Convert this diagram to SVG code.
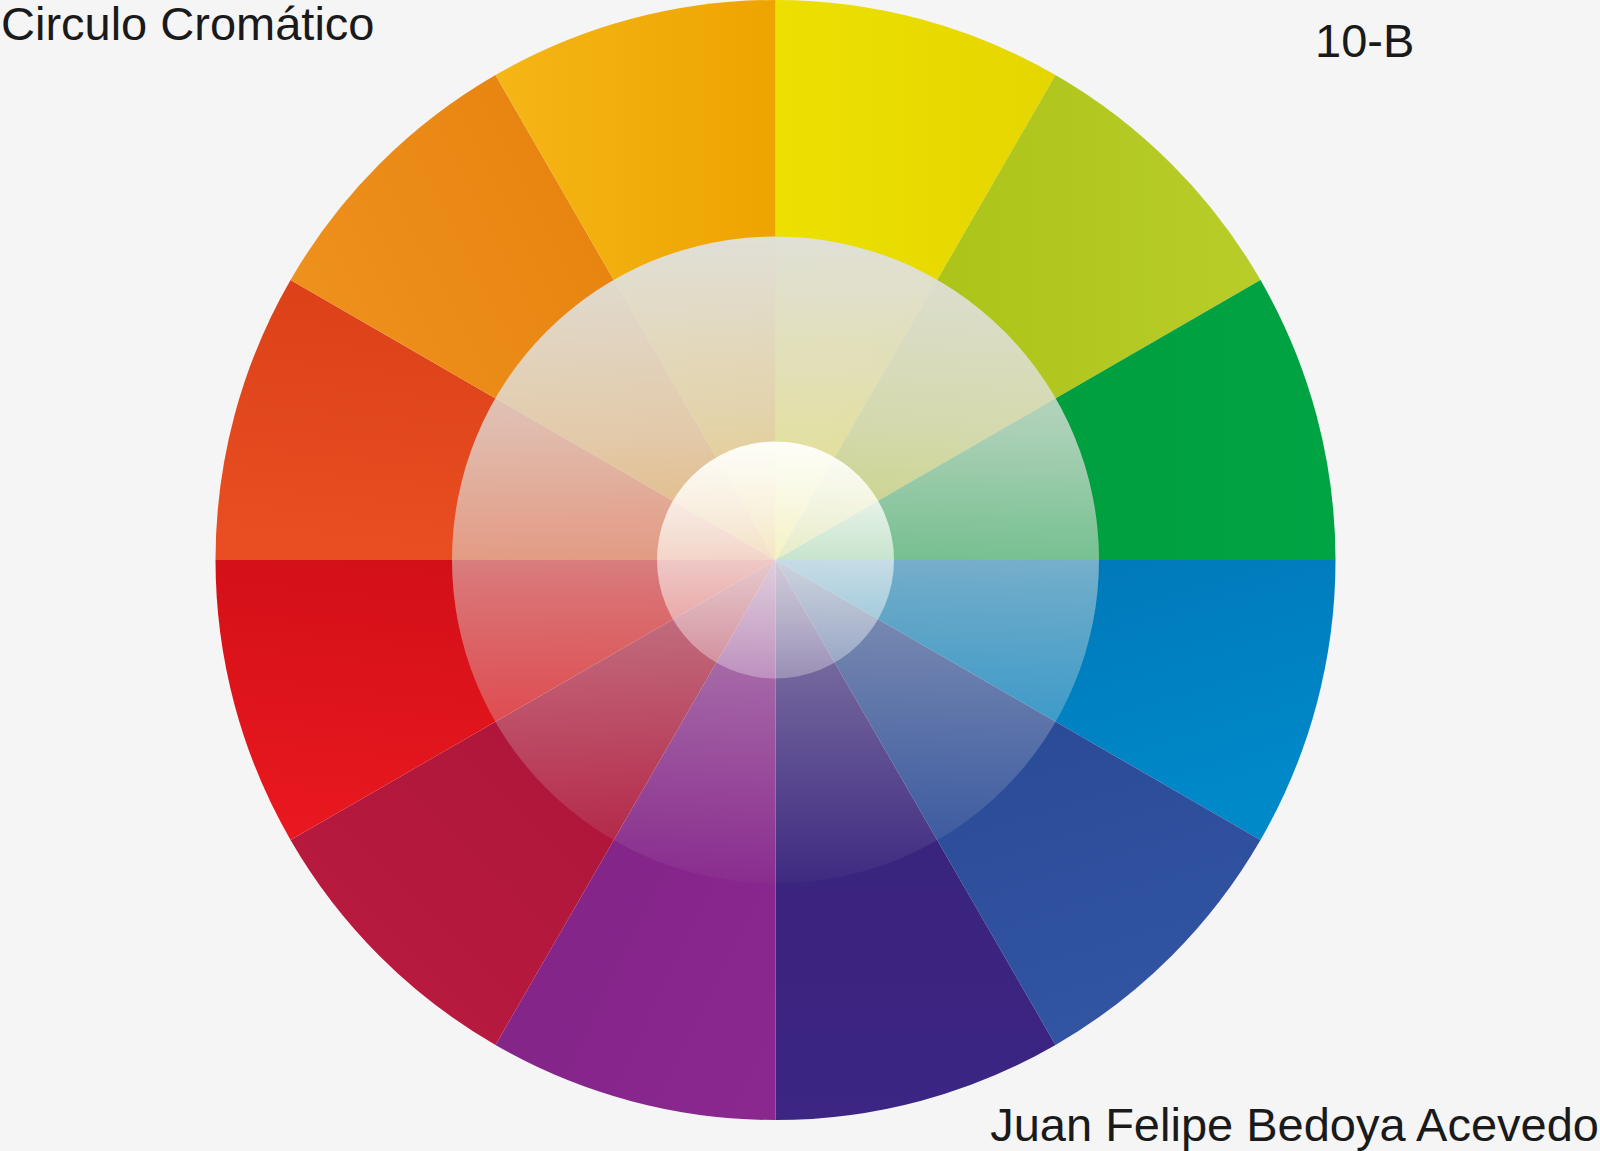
<svg xmlns="http://www.w3.org/2000/svg" width="1600" height="1151" viewBox="0 0 1600 1151">
  <style>
    .label { font-family: "Liberation Sans", Arial, sans-serif; font-size: 47px; fill: #1a1a1a; }
  </style>
  <defs>
    <linearGradient id="gYellow" x1="0" y1="0" x2="1" y2="0"><stop offset="0" stop-color="#ECE000"/><stop offset="1" stop-color="#E5D600"/></linearGradient>
    <linearGradient id="gYellowGreen" x1="0" y1="0.5" x2="1" y2="0.5"><stop offset="0" stop-color="#A6BF10"/><stop offset="1" stop-color="#B9CD2A"/></linearGradient>
    <linearGradient id="gGreen" x1="0" y1="0" x2="1" y2="0"><stop offset="0" stop-color="#00983B"/><stop offset="1" stop-color="#00A443"/></linearGradient>
    <linearGradient id="gBlue" x1="0" y1="0" x2="0.6" y2="1"><stop offset="0" stop-color="#0074B5"/><stop offset="1" stop-color="#0089C9"/></linearGradient>
    <linearGradient id="gBlueViolet" x1="0.2" y1="0" x2="0.5" y2="1"><stop offset="0" stop-color="#26458F"/><stop offset="1" stop-color="#3154A3"/></linearGradient>
    <linearGradient id="gViolet" x1="0" y1="0" x2="0" y2="1"><stop offset="0" stop-color="#372378"/><stop offset="1" stop-color="#3C2583"/></linearGradient>
    <linearGradient id="gPurple" x1="0" y1="0" x2="1" y2="1"><stop offset="0" stop-color="#7F2285"/><stop offset="1" stop-color="#8A288F"/></linearGradient>
    <linearGradient id="gCrimson" x1="1" y1="0" x2="0" y2="1"><stop offset="0" stop-color="#A71236"/><stop offset="1" stop-color="#BB1B41"/></linearGradient>
    <linearGradient id="gRed" x1="0.5" y1="0" x2="0.3" y2="1"><stop offset="0" stop-color="#D20F17"/><stop offset="1" stop-color="#E9181F"/></linearGradient>
    <linearGradient id="gRedOrange" x1="0.5" y1="1" x2="0.7" y2="0"><stop offset="0" stop-color="#E84E21"/><stop offset="1" stop-color="#DA3F17"/></linearGradient>
    <linearGradient id="gOrange" x1="0" y1="0.8" x2="1" y2="0.3"><stop offset="0" stop-color="#F19421"/><stop offset="1" stop-color="#E37E08"/></linearGradient>
    <linearGradient id="gYellowOrange" x1="0" y1="0" x2="1" y2="0"><stop offset="0" stop-color="#F5B616"/><stop offset="1" stop-color="#EEA400"/></linearGradient>
    <linearGradient id="midOverlay" gradientUnits="userSpaceOnUse" x1="0" y1="236.5" x2="0" y2="883.5">
      <stop offset="0" stop-color="#E0E0DB" stop-opacity="0.98"/>
      <stop offset="0.3" stop-color="#E0E0DB" stop-opacity="0.76"/>
      <stop offset="0.55" stop-color="#E0E0DB" stop-opacity="0.47"/>
      <stop offset="1" stop-color="#E0E0DB" stop-opacity="0.03"/>
    </linearGradient>
    <linearGradient id="innerOverlay" gradientUnits="userSpaceOnUse" x1="0" y1="441.5" x2="0" y2="678.5">
      <stop offset="0" stop-color="#FFFFFA" stop-opacity="0.97"/>
      <stop offset="0.5" stop-color="#FFFFFA" stop-opacity="0.58"/>
      <stop offset="1" stop-color="#FFFFFA" stop-opacity="0.28"/>
    </linearGradient>
  </defs>
  <rect x="0" y="0" width="1600" height="1151" fill="#F5F5F5"/>

  <g id="wheel">
    <g id="seg-yellow"><path d="M775.5 560 L775.5 0 A560 560 0 0 1 1055.5 75.03 Z" fill="url(#gYellow)"/></g>
    <g id="seg-yellow-green"><path d="M775.5 560 L1055.5 75.03 A560 560 0 0 1 1260.47 280 Z" fill="url(#gYellowGreen)"/></g>
    <g id="seg-green"><path d="M775.5 560 L1260.47 280 A560 560 0 0 1 1335.5 560 Z" fill="url(#gGreen)"/></g>
    <g id="seg-blue"><path d="M775.5 560 L1335.5 560 A560 560 0 0 1 1260.47 840 Z" fill="url(#gBlue)"/></g>
    <g id="seg-blue-violet"><path d="M775.5 560 L1260.47 840 A560 560 0 0 1 1055.5 1044.97 Z" fill="url(#gBlueViolet)"/></g>
    <g id="seg-violet"><path d="M775.5 560 L1055.5 1044.97 A560 560 0 0 1 775.5 1120 Z" fill="url(#gViolet)"/></g>
    <g id="seg-purple"><path d="M775.5 560 L775.5 1120 A560 560 0 0 1 495.5 1044.97 Z" fill="url(#gPurple)"/></g>
    <g id="seg-crimson"><path d="M775.5 560 L495.5 1044.97 A560 560 0 0 1 290.53 840 Z" fill="url(#gCrimson)"/></g>
    <g id="seg-red"><path d="M775.5 560 L290.53 840 A560 560 0 0 1 215.5 560 Z" fill="url(#gRed)"/></g>
    <g id="seg-red-orange"><path d="M775.5 560 L215.5 560 A560 560 0 0 1 290.53 280 Z" fill="url(#gRedOrange)"/></g>
    <g id="seg-orange"><path d="M775.5 560 L290.53 280 A560 560 0 0 1 495.5 75.03 Z" fill="url(#gOrange)"/></g>
    <g id="seg-yellow-orange"><path d="M775.5 560 L495.5 75.03 A560 560 0 0 1 775.5 0 Z" fill="url(#gYellowOrange)"/></g>
  </g>

  <g id="middle-ring">
    <circle cx="775.5" cy="560" r="323.5" fill="url(#midOverlay)"/>
  </g>
  <g id="inner-circle">
    <circle cx="775.5" cy="560" r="118.5" fill="url(#innerOverlay)"/>
  </g>

  <g id="connectors"/>

  <g id="title"><text class="label" x="1" y="40">Circulo Cromático</text></g>
  <g id="group-label"><text class="label" x="1315" y="57">10-B</text></g>
  <g id="author"><text class="label" x="1599" y="1141" text-anchor="end">Juan Felipe Bedoya Acevedo</text></g>
</svg>
